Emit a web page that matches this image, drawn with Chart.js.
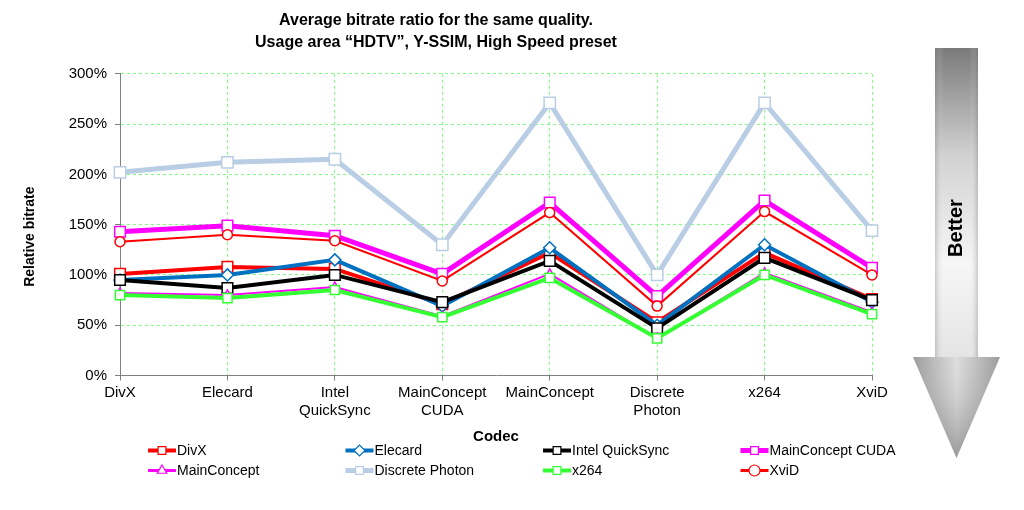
<!DOCTYPE html>
<html>
<head>
<meta charset="utf-8">
<script src="https://cdn.jsdelivr.net/npm/chart.js@4.4.1/dist/chart.umd.min.js"></script>
<style>
  html, body { margin: 0; padding: 0; background: #fff; }
  #wrap { width: 1024px; height: 510px; }
</style>
</head>
<body>
<div id="wrap"><canvas id="bitrateChart" width="1024" height="510"></canvas></div>
<script>
// categories and values (relative bitrate, %)
const codecs = ["DivX", "Elecard", ["Intel", "QuickSync"], ["MainConcept", "CUDA"], "MainConcept", ["Discrete", "Photon"], "x264", "XviD"];
const yTicks = [0, 50, 100, 150, 200, 250, 300];

const divx        = [101, 108, 106, 71, 122, 53, 122, 76];
const elecard     = [95, 100, 115, 69, 127, 50, 130, 73];
const intelQS     = [95, 87, 100, 73, 114, 47, 117, 75];
const mcCuda      = [143, 149, 139, 101, 172, 79, 174, 107];
const mainConcept = [82, 80, 88, 59, 101, 37, 102, 63];
const discrete    = [202, 212, 215, 130, 271, 100, 271, 144];
const x264        = [80, 77, 85, 58, 97, 37, 100, 61];
const xvid        = [133, 140, 134, 94, 162, 69, 163, 100];

const FONT = "'Liberation Sans', Arial, sans-serif";

let seriesCount = 0;
function series(label, data, color, width, style, radius) {
  seriesCount++;
  return {
    label: label,
    data: data,
    order: 10 - seriesCount, // later series drawn on top, like Excel
    borderColor: color,
    borderWidth: width,
    pointStyle: style,
    pointRadius: radius,
    pointHoverRadius: radius,
    pointBackgroundColor: "#ffffff",
    pointBorderColor: color,
    pointBorderWidth: 1.5,
    tension: 0
  };
}

// legend in 4 fixed columns, like the original
const gridLegend = {
  id: "gridLegend",
  afterDraw(chart) {
    const ctx = chart.ctx;
    const area = chart.chartArea;
    ctx.save();
    ctx.font = "14px " + FONT;
    ctx.textBaseline = "middle";
    chart.data.datasets.forEach((ds, i) => {
      const col = i % 4, row = Math.floor(i / 4);
      const x = area.left + 28 + col * 197.5;
      const y = area.bottom + 75 + row * 20;
      ctx.strokeStyle = ds.borderColor;
      ctx.lineWidth = Math.max(ds.borderWidth, 3);
      ctx.beginPath();
      ctx.moveTo(x, y);
      ctx.lineTo(x + 28, y);
      ctx.stroke();
      ctx.fillStyle = "#ffffff";
      ctx.strokeStyle = ds.borderColor;
      ctx.lineWidth = 1.2;
      Chart.helpers.drawPoint(ctx, { pointStyle: ds.pointStyle, rotation: 0, borderWidth: 1.2, radius: 5.5 }, x + 14, y);
      ctx.fillStyle = "#000";
      ctx.fillText(ds.label, x + 29, y + 1);
    });
    ctx.restore();
  }
};

// y axis title sits a little below the middle of the plot in the original
const yTitle = {
  id: "yTitle",
  afterDraw(chart) {
    const ctx = chart.ctx;
    const area = chart.chartArea;
    ctx.save();
    ctx.translate(30, (area.top + area.bottom) / 2 + 12);
    ctx.rotate(-Math.PI / 2);
    ctx.font = "bold 14px " + FONT;
    ctx.fillStyle = "#000";
    ctx.textAlign = "center";
    ctx.textBaseline = "middle";
    ctx.fillText("Relative bitrate", 0, 0);
    ctx.restore();
  }
};

// grey "Better" arrow at the right
const betterArrow = {
  id: "betterArrow",
  afterDraw(chart) {
    const ctx = chart.ctx;
    const sx1 = 935, sx2 = 978, top = 48, neck = 357, tip = 458, hx1 = 913, hx2 = 1000;
    ctx.save();
    let g = ctx.createLinearGradient(0, top, 0, neck);
    g.addColorStop(0, "#7a7a7a");
    g.addColorStop(0.35, "#d2d2d2");
    g.addColorStop(0.7, "#f6f6f6");
    g.addColorStop(1, "#e4e4e4");
    ctx.fillStyle = g;
    ctx.fillRect(sx1, top, sx2 - sx1, neck - top);
    let e = ctx.createLinearGradient(sx1, 0, sx2, 0);
    e.addColorStop(0, "rgba(120,120,120,0.35)");
    e.addColorStop(0.2, "rgba(255,255,255,0)");
    e.addColorStop(0.8, "rgba(255,255,255,0)");
    e.addColorStop(1, "rgba(120,120,120,0.35)");
    ctx.fillStyle = e;
    ctx.fillRect(sx1, top, sx2 - sx1, neck - top);

    ctx.beginPath();
    ctx.moveTo(hx1, neck);
    ctx.lineTo(hx2, neck);
    ctx.lineTo((hx1 + hx2) / 2, tip);
    ctx.closePath();
    let h = ctx.createLinearGradient(hx1, 0, hx2, 0);
    h.addColorStop(0, "#8a8a8a");
    h.addColorStop(0.5, "#d8d8d8");
    h.addColorStop(1, "#8a8a8a");
    ctx.fillStyle = h;
    ctx.fill();
    let hv = ctx.createLinearGradient(0, neck, 0, tip);
    hv.addColorStop(0, "rgba(255,255,255,0.15)");
    hv.addColorStop(1, "rgba(90,90,90,0.5)");
    ctx.fillStyle = hv;
    ctx.fill();

    ctx.translate((sx1 + sx2) / 2, 228);
    ctx.rotate(-Math.PI / 2);
    ctx.font = "bold 20px " + FONT;
    ctx.fillStyle = "#000";
    ctx.textAlign = "center";
    ctx.textBaseline = "middle";
    ctx.fillText("Better", 0, 0);
    ctx.restore();
  }
};

const ctx = document.getElementById("bitrateChart");
new Chart(ctx, {
  type: "line",
  data: {
    labels: codecs,
    datasets: [
      series("DivX", divx, "#ff0000", 4, "rect", 7.5),
      series("Elecard", elecard, "#0070c0", 4, "rectRot", 6),
      series("Intel QuickSync", intelQS, "#000000", 4, "rect", 7.5),
      series("MainConcept CUDA", mcCuda, "#ff00ff", 5, "rect", 7.5),
      series("MainConcept", mainConcept, "#ff00ff", 2, "triangle", 5),
      series("Discrete Photon", discrete, "#b9cde5", 5, "rect", 8),
      series("x264", x264, "#33ff33", 4, "rect", 6.5),
      series("XviD", xvid, "#ff0000", 2, "circle", 5)
    ]
  },
  options: {
    responsive: false,
    animation: false,
    layout: { padding: { left: 0, right: 152, top: 0, bottom: 64 } },
    plugins: {
      legend: { display: false },
      tooltip: { enabled: false },
      title: {
        display: true,
        text: ["Average bitrate ratio for the same quality.", "Usage area \u201cHDTV\u201d, Y-SSIM, High Speed preset"],
        color: "#000",
        font: { family: FONT, size: 16, weight: "bold", lineHeight: 1.4 },
        padding: { top: 9, bottom: 20 }
      }
    },
    scales: {
      x: {
        offset: false,
        grid: { color: "#7fff7f", lineWidth: 1, drawTicks: true, tickLength: 5, tickColor: "#808080", tickBorderDash: [] },
        border: { display: true, color: "#808080", width: 1, dash: [3, 3] },
        ticks: { color: "#000", font: { family: FONT, size: 15, lineHeight: 1.15 }, padding: 4, maxRotation: 0, autoSkip: false },
        title: { display: true, text: "Codec", color: "#000", font: { family: FONT, size: 15, weight: "bold" }, padding: { top: 5, bottom: 0 } }
      },
      y: {
        min: 0,
        max: 300,
        afterFit(scale) { scale.width = 120; },
        afterBuildTicks(scale) { scale.ticks = yTicks.map(v => ({ value: v })); },
        grid: { color: "#7fff7f", lineWidth: 1, drawTicks: true, tickLength: 5, tickColor: "#808080", tickBorderDash: [] },
        border: { display: true, color: "#808080", width: 1, dash: [3, 3] },
        ticks: { color: "#000", font: { family: FONT, size: 15 }, padding: 8, callback: v => v + "%" }
      }
    }
  },
  plugins: [gridLegend, yTitle, betterArrow]
});
</script>
</body>
</html>
